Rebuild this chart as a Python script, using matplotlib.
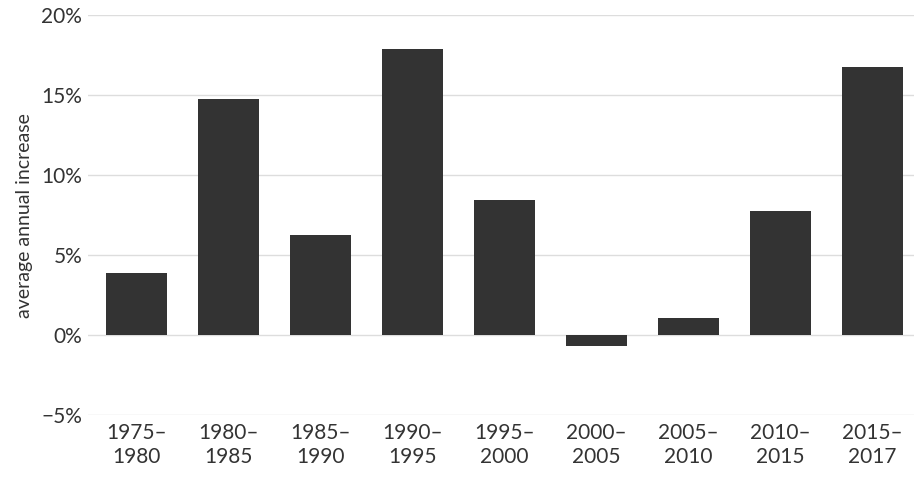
import matplotlib
matplotlib.use("Agg")
import matplotlib.pyplot as plt
from matplotlib.ticker import FuncFormatter

categories = ["1975–\n1980", "1980–\n1985", "1985–\n1990", "1990–\n1995", "1995–\n2000",
              "2000–\n2005", "2005–\n2010", "2010–\n2015", "2015–\n2017"]
values = [3.9, 14.75, 6.25, 17.9, 8.45, -0.7, 1.05, 7.75, 16.75]

plt.rcParams['font.family'] = ['Lato', 'DejaVu Sans']
fig = plt.figure(figsize=(9.14, 4.9), dpi=100)
ax = fig.add_axes([0.096, 0.153, 0.904, 0.816])
x = list(range(len(categories)))
ax.bar(x, values, width=0.67, color="#333333", zorder=3)
ax.set_xlim(-0.53, 8.45)
ax.set_ylim(-5, 20)
ax.set_yticks([-5, 0, 5, 10, 15, 20])
ax.yaxis.set_major_formatter(FuncFormatter(lambda v, p: f"{'−' if v < 0 else ''}{abs(int(v))}%"))
ax.set_xticks(x)
ax.set_xticklabels(categories)
ax.grid(axis='y', color="#dddddd", linewidth=1, zorder=0)
for s in ax.spines.values():
    s.set_visible(False)
ax.tick_params(axis='both', length=0, labelsize=15, colors="#333333")
ax.tick_params(axis='y', pad=4)
ax.tick_params(axis='x', pad=6)
ax.set_ylabel("average annual increase", fontsize=14, color="#333333", labelpad=6)
fig.savefig("out.png", dpi=100)
